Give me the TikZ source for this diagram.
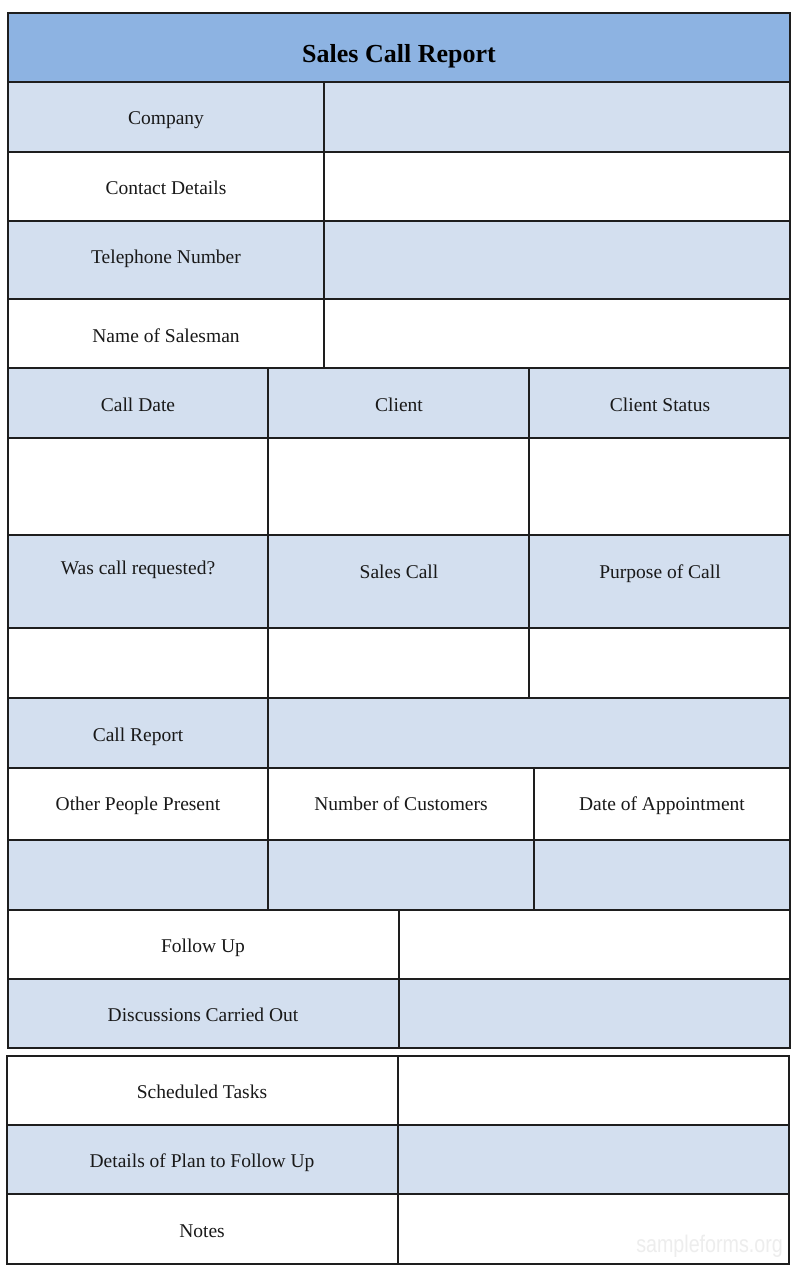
\documentclass[tikz,border=0pt]{standalone}
\usepackage{fontspec}
\setmainfont{Liberation Serif}
\newfontfamily\wmfont{Liberation Sans}
\definecolor{titleblue}{HTML}{8DB3E2}
\definecolor{lightblue}{HTML}{D3DFEF}
\definecolor{gridline}{HTML}{1E1E1E}
\tikzset{
  lbl/.style={anchor=base, inner sep=0pt, font=\fontsize{19.5}{22}\selectfont, text=black!90},
  ttl/.style={anchor=base, inner sep=0pt, font=\fontsize{26}{30}\selectfont\bfseries},
  grid/.style={draw=gridline, line width=1.4pt},
  lfill/.style={fill=lightblue},
}
\begin{document}
\begin{tikzpicture}[x=1pt,y=-1pt]
\useasboundingbox (0,0) rectangle (797,1276);
\fill[white] (0,0) rectangle (797,1276);
% fills table 1
\fill[titleblue] (8,13) rectangle (790,82);
\foreach \a/\b in {82/152,221/299,368/438,535/628,698/768,840/910,979/1048}
  {\fill[lfill] (8,\a) rectangle (790,\b);}
% fills table 2
\fill[lfill] (7,1125) rectangle (789,1194);
% horizontal lines table 1
\foreach \y in {82,152,221,299,368,438,535,628,698,768,840,910,979}
  {\draw[grid] (8,\y) -- (790,\y);}
\draw[grid] (8,13) rectangle (790,1048);
% verticals table 1
\draw[grid] (324,82) -- (324,368);
\draw[grid] (268,368) -- (268,910);
\draw[grid] (529,368) -- (529,698);
\draw[grid] (534,768) -- (534,910);
\draw[grid] (399,910) -- (399,1048);
% table 2
\foreach \y in {1125,1194}
  {\draw[grid] (7,\y) -- (789,\y);}
\draw[grid] (7,1056) rectangle (789,1264);
\draw[grid] (398,1056) -- (398,1264);
% texts
\node[ttl] (title) at (399,63) {Sales Call Report};
\node[lbl] (company) at (166,125) {Company};
\node[lbl] (contact) at (166,194) {Contact Details};
\node[lbl] (phone) at (166,263) {Telephone Number};
\node[lbl] (salesman) at (166,342) {Name of Salesman};
\node[lbl] (calldate) at (138,411) {Call Date};
\node[lbl] (client) at (399,411) {Client};
\node[lbl] (status) at (660,411) {Client Status};
\node[lbl] (requested) at (138,574) {Was call requested?};
\node[lbl] (salescall) at (399,578) {Sales Call};
\node[lbl] (purpose) at (660,578) {Purpose of Call};
\node[lbl] (callreport) at (138,741) {Call Report};
\node[lbl] (people) at (138,810) {Other People Present};
\node[lbl] (customers) at (401,810) {Number of Customers};
\node[lbl] (appointment) at (662,810) {Date of Appointment};
\node[lbl] (followup) at (203,952) {Follow Up};
\node[lbl] (discussions) at (203,1021) {Discussions Carried Out};
\node[lbl] (tasks) at (202,1098) {Scheduled Tasks};
\node[lbl] (plan) at (202,1167) {Details of Plan to Follow Up};
\node[lbl] (notes) at (202,1237) {Notes};
\node[anchor=base east, inner sep=0pt, text=black!7, font=\wmfont\fontsize{24}{28}\selectfont, xscale=0.82] (wm) at (783,1252) {sampleforms.org};
\end{tikzpicture}
\end{document}
